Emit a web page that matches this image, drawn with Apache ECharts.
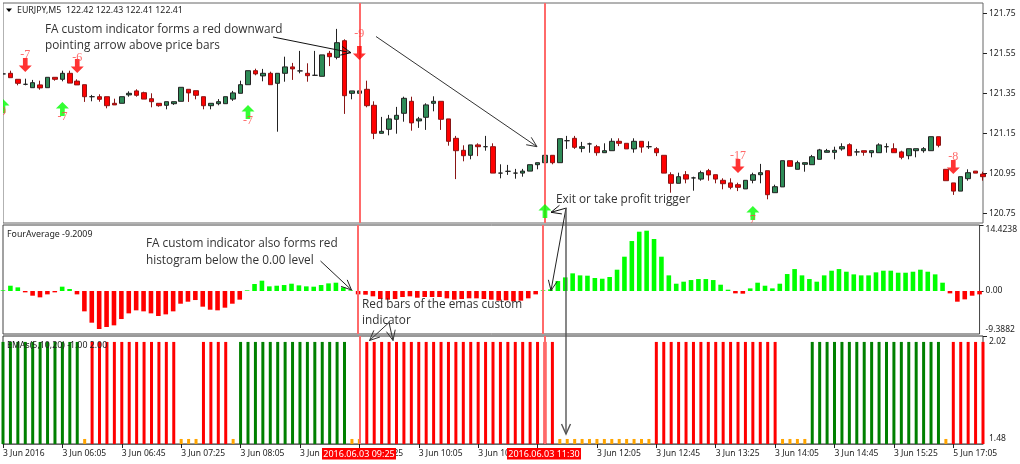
<!DOCTYPE html>
<html><head><meta charset="utf-8">
<style>html,body{margin:0;padding:0;background:#fff}#c{width:1020px;height:464px}</style>
<script src="https://cdn.jsdelivr.net/npm/echarts@6/dist/echarts.min.js"></script>
</head><body><div id="c"></div>
<script>
const tickLabels = ['3 Jun 2016','3 Jun 06:05','3 Jun 06:45','3 Jun 07:25','3 Jun 08:05','3 Jun 08:45','3 Jun 09:25','3 Jun 10:05','3 Jun 10:45','3 Jun 11:25','3 Jun 12:05','3 Jun 12:45','3 Jun 13:25','3 Jun 14:05','3 Jun 14:45','3 Jun 15:25','5 Jun 17:05'];
const opens = [121.448,121.451,121.421,121.396,121.379,121.393,121.379,121.431,121.421,121.451,
121.412,121.394,121.334,121.334,121.334,121.301,121.301,121.343,121.363,121.354,
121.324,121.301,121.291,121.299,121.311,121.371,121.364,121.334,121.289,121.299,
121.299,121.322,121.351,121.394,121.464,121.438,121.451,121.401,121.451,121.483,
121.463,121.451,121.441,121.436,121.551,121.531,121.614,121.351,121.351,121.371,
121.291,121.151,121.171,121.221,121.251,121.311,121.213,121.231,121.301,121.311,
121.223,121.126,121.066,121.041,121.093,121.084,121.084,120.952,120.961,120.952,
120.952,120.962,120.994,121.004,121.041,121.004,121.114,121.126,121.076,121.098,
121.084,121.054,121.064,121.111,121.101,121.073,121.111,121.084,121.074,121.041,
120.944,120.901,120.944,120.928,120.922,120.964,120.944,120.916,120.903,120.894,
120.873,120.916,120.944,120.964,120.854,120.883,121.014,120.971,120.996,120.994,
121.021,121.056,121.056,121.073,121.094,121.058,121.064,121.054,121.054,121.084,
121.074,121.058,121.039,121.064,121.064,121.064,121.134,120.971,120.903,120.862,
120.924,120.962,120.947];
const closes = [121.448,121.429,121.401,121.396,121.404,121.378,121.431,121.421,121.451,121.402,
121.393,121.334,121.334,121.321,121.289,121.293,121.334,121.351,121.341,121.322,
121.309,121.289,121.309,121.309,121.381,121.353,121.341,121.289,121.301,121.309,
121.334,121.353,121.394,121.464,121.448,121.451,121.394,121.451,121.483,121.473,
121.463,121.439,121.441,121.543,121.534,121.604,121.339,121.363,121.363,121.289,
121.151,121.161,121.223,121.241,121.326,121.203,121.223,121.293,121.311,121.221,
121.111,121.064,121.039,121.093,121.084,121.084,120.952,120.952,120.961,120.952,
120.962,120.994,121.004,121.041,121.004,121.124,121.114,121.081,121.084,121.098,
121.054,121.064,121.111,121.101,121.073,121.111,121.082,121.084,121.054,120.952,
120.901,120.934,120.922,120.928,120.954,120.943,120.922,120.899,120.881,120.881,
120.916,120.944,120.954,120.844,120.884,121.014,120.986,121.004,121.004,121.034,
121.068,121.064,121.066,121.084,121.039,121.058,121.056,121.064,121.093,121.084,
121.054,121.031,121.074,121.074,121.074,121.134,121.091,120.914,120.862,120.934,
120.954,120.952,120.934];
const lows = [121.438,121.429,121.391,121.391,121.379,121.369,121.379,121.414,121.411,121.402,
121.393,121.308,121.311,121.309,121.276,121.293,121.301,121.334,121.334,121.322,
121.281,121.284,121.271,121.293,121.311,121.308,121.321,121.271,121.271,121.291,
121.299,121.313,121.351,121.394,121.441,121.411,121.394,121.159,121.409,121.418,
121.451,121.409,121.441,121.436,121.487,121.521,121.248,121.321,121.351,121.281,
121.122,121.151,121.141,121.149,121.209,121.164,121.178,121.168,121.261,121.168,
121.089,120.922,121.011,121.021,121.037,121.064,120.952,120.926,120.943,120.924,
120.934,120.962,120.971,121.004,120.996,121.004,121.073,121.073,121.056,121.054,
121.039,121.054,121.064,121.087,121.073,121.054,121.054,121.073,121.037,120.952,
120.854,120.901,120.901,120.864,120.914,120.914,120.901,120.871,120.871,120.862,
120.873,120.901,120.901,120.821,120.854,120.883,120.986,120.971,120.959,120.994,
121.021,121.056,121.021,121.064,121.039,121.039,121.039,121.031,121.054,121.054,
121.054,121.021,121.021,121.031,121.054,121.064,121.081,120.914,120.843,120.862,
120.914,120.952,120.914];
const highs = [121.471,121.464,121.421,121.424,121.418,121.414,121.431,121.431,121.464,121.464,
121.421,121.394,121.343,121.346,121.334,121.324,121.334,121.361,121.371,121.359,
121.351,121.301,121.309,121.309,121.381,121.371,121.364,121.334,121.301,121.322,
121.334,121.363,121.414,121.464,121.474,121.473,121.459,121.451,121.534,121.503,
121.563,121.501,121.563,121.543,121.563,121.673,121.621,121.363,121.363,121.414,
121.311,121.233,121.243,121.283,121.334,121.334,121.233,121.301,121.336,121.311,
121.223,121.138,121.091,121.093,121.101,121.138,121.101,120.996,120.993,120.973,
120.973,120.994,121.004,121.041,121.041,121.124,121.138,121.138,121.108,121.104,
121.093,121.101,121.126,121.126,121.101,121.126,121.111,121.111,121.082,121.041,
120.956,120.954,120.962,120.934,120.964,120.973,120.944,120.926,120.926,120.904,
120.916,120.954,120.998,120.964,120.894,121.014,121.014,121.014,121.004,121.043,
121.073,121.073,121.084,121.101,121.101,121.073,121.064,121.064,121.101,121.101,
121.101,121.064,121.074,121.074,121.082,121.134,121.134,120.971,120.903,120.934,
120.971,120.962,120.959];
const fourAverage = [0.15,1.16,0.80,-0.29,-1.02,-1.38,-0.73,-0.29,0.95,0.44,
-0.73,-4.44,-6.92,-8.30,-7.86,-7.50,-6.12,-4.88,-4.22,-4.44,
-4.88,-5.46,-5.10,-4.44,-2.77,-2.33,-1.97,-3.42,-4.08,-4.22,
-3.64,-2.77,-1.89,0.15,1.53,2.26,1.02,1.16,1.31,1.60,
1.24,1.02,0.95,1.31,1.67,1.82,0.80,0.15,-0.73,-0.80,
-1.16,-1.75,-1.89,-1.75,-1.31,-1.16,-1.46,-1.31,-1.31,-1.31,
-1.60,-1.89,-1.75,-1.60,-1.60,-1.75,-1.89,-2.11,-2.04,-2.26,
-2.11,-1.60,-0.73,0.15,0.36,2.18,2.98,3.86,3.42,3.35,
2.84,2.69,3.06,4.66,7.50,10.92,12.96,13.18,11.36,7.50,
3.42,1.60,2.04,2.40,2.62,2.62,2.40,1.38,0.29,-0.51,
-0.58,0.58,1.82,1.16,0.58,1.60,3.71,4.80,3.42,2.62,
2.04,3.42,4.44,4.80,4.22,3.64,3.42,3.42,4.08,4.44,
4.44,4.00,4.00,4.22,4.66,4.22,3.64,1.82,-0.51,-2.33,
-1.82,-1.02,-0.73];
const emaKinds = 'GGGGGGGGGGGORRRRRRRRRRRROOORRRROGGGGGGGGGGGGGGGOORRRRRRRRRRRRRRRRRRRRRRRRRROOOOOOOOOOOOORRRRRRRRRRRRRRRRROOOOGGGGGGGGGGGGGGGGGGORRRRR'.split('');
const emaHigh = 2.02, emaLow = 1.48;
const downIdx = [3,10,48,99,128];
const downPrice = [121.4925,121.4875,121.5525,120.9875,120.9825];
const downText = ['-7','-6','-9','-17','-8'];
const downTextPrice = [121.5425,121.5275,121.6475,121.0375,121.0325];
const upIdx = [0,8,33,73,101];
const upPrice = [121.2875,121.2725,121.2575,120.7625,120.7525];
const upText = ['9','-7','-7','','7'];
const upTextPrice = [121.2575,121.2325,121.2125,120.7625,120.7175];
const signalLines = [48,73];
const priceTicks = [120.75,120.95,121.15,121.35,121.55,121.75];
const faTicks = [-9.3882,0,14.4238];

const categories = opens.map((_, i) => String(i));
const FONT = '"Noto Sans"';
const TXT = '#222';
const NOTE = '"Open Sans"';
const RED = '#ff0000', GRN = '#00ff00';
const LINE_RED = {color: '#ff6a6a', width: 2, type: 'solid', opacity: 1};

function vLines() {
  return {
    silent: true, symbol: 'none', animation: false,
    itemStyle: {color: '#ff6a6a'},
    lineStyle: Object.assign({}, LINE_RED), label: {show: false},
    data: signalLines.map(i => ({xAxis: String(i), itemStyle: {color: '#ff6a6a'}, lineStyle: Object.assign({}, LINE_RED)}))
  };
}
const arrowDown = 'path://M3.2,0 H6.8 V7 H10 L5,13 L0,7 H3.2 Z';
const arrowUp = 'path://M5,0 L10,6 H6.8 V13 H3.2 V6 H0 Z';

function xAxis(gridIndex, visible) {
  return {
    type: 'category', gridIndex, data: categories, boundaryGap: false, containShape: false,
    axisLine: {show: visible, lineStyle: {color: '#666'}},
    axisTick: {show: visible, length: 4, interval: i => i % 8 === 0, lineStyle: {color: '#222'}},
    axisLabel: {show: visible, interval: i => i % 8 === 0, align: 'left', margin: 5,
      formatter: (v) => tickLabels[Number(v) / 8] || '', color: TXT, fontFamily: FONT, fontSize: 8.5, hideOverlap: false},
    splitLine: {show: false}
  };
}
function yAxis(gridIndex, min, max, values, tickValues, fmt) {
  return {
    type: 'value', gridIndex, min, max, position: 'right', scale: true,
    axisLine: {show: false},
    axisTick: {show: true, length: 4, customValues: tickValues, lineStyle: {color: '#222'}},
    axisLabel: {customValues: values, color: TXT, fontFamily: FONT, fontSize: 8.5, margin: 6, hideOverlap: false,
      verticalAlignMaxLabel: gridIndex === 1 ? 'top' : null, verticalAlignMinLabel: gridIndex === 1 ? 'bottom' : null,
      formatter: fmt},
    splitLine: {show: false}
  };
}

function arrow(x1, y1, x2, y2, color, width) {
  const a = Math.atan2(y2 - y1, x2 - x1), L = 11, t = 0.42;
  const h = (s) => [x2 - L * Math.cos(a + s * t), y2 - L * Math.sin(a + s * t)];
  const st = {stroke: color, lineWidth: width, fill: null};
  return [
    {type: 'line', z: 50, shape: {x1, y1, x2, y2}, style: st},
    {type: 'polyline', z: 50, shape: {points: [h(1), [x2, y2], h(-1)]}, style: st}
  ];
}
function note(text, x, y) {
  return {type: 'text', z: 50, x, y, style: {text, fill: '#333', font: '11.8px ' + NOTE, textVerticalAlign: 'middle'}};
}
function redTag(text, x, y, w, h) {
  return [
    {type: 'rect', z: 60, shape: {x, y, width: w, height: h}, style: {fill: '#ff0000'}},
    {type: 'text', z: 61, x: x + w / 2, y: y + h / 2 + 0.5, style: {text, fill: '#fff', font: '9px ' + FONT, textAlign: 'center', textVerticalAlign: 'middle'}}
  ];
}
function small(text, x, y) {
  return {type: 'text', z: 40, x, y, style: {text, fill: '#222', font: '8.8px ' + FONT, textVerticalAlign: 'middle'}};
}

const graphics = [
  {type: 'rect', z: 30, shape: {x: 0, y: 0, width: 3, height: 223}, style: {fill: '#fff'}},
  {type: 'polygon', z: 40, shape: {points: [[6, 8.5], [12, 8.5], [9, 12]]}, style: {fill: '#000'}},
  small('EURJPY,M5  122.42 122.43 122.41 122.41', 17, 10),
  small('FourAverage -9.2009', 7, 234),
  small('EMAs(5,10,20) -1.00 2.00', 7, 345),
  note('FA custom indicator forms a red downward', 45, 30),
  note('pointing arrow above price bars', 45, 46),
  note('Exit or take profit trigger', 556, 200),
  note('FA custom indicator also forms red', 146, 244),
  note('histogram below the 0.00 level', 146, 261),
  note('Red bars of the emas custom', 362, 305),
  note('indicator', 362, 321),
  ...arrow(273, 37, 351, 52.7, '#111', 1),
  ...arrow(376, 36.5, 537, 146.7, '#333', 1),
  ...arrow(566.5, 208, 551, 212.3, '#111', 1),
  ...arrow(566, 208, 551, 290.5, '#222', 1),
  ...arrow(566, 208, 566, 434, '#555', 1.4),
  ...arrow(320.5, 261, 351.5, 290, '#222', 1),
  ...arrow(389, 322.5, 369.5, 340.5, '#333', 1),
  ...arrow(389, 322.5, 393, 340.5, '#333', 1),
  ...redTag('2016.06.03 09:25', 322, 448, 74, 11.5),
  ...redTag('2016.06.03 11:30', 507, 448, 74, 11.5)
];

const chart = echarts.init(document.getElementById('c'), null, {renderer: 'canvas'});
chart.setOption({
  animation: false,
  backgroundColor: '#fff',
  grid: [
    {left: 3, top: 3, width: 980, height: 220, show: true, borderColor: '#666', borderWidth: 1, backgroundColor: 'transparent'},
    {left: 3, top: 225, width: 980, height: 109, show: true, borderColor: '#444', borderWidth: 1, backgroundColor: 'transparent'},
    {left: 3, top: 336, width: 980, height: 108, show: true, borderColor: '#333', borderWidth: 1, backgroundColor: 'transparent'}
  ],
  xAxis: [xAxis(0, false), xAxis(1, false), xAxis(2, true)],
  yAxis: [
    yAxis(0, 120.7025, 121.8025, priceTicks, priceTicks, v => v.toFixed(2)),
    yAxis(1, -9.3882, 14.4238, faTicks, [0, 14.4238], v => Math.abs(v) < 1e-9 ? '0.00' : String(v)),
    yAxis(2, 1.452, 2.053, [emaLow, emaHigh], [2.053], v => v.toFixed(2))
  ],
  series: [
    {type: 'candlestick', xAxisIndex: 0, yAxisIndex: 0, barWidth: 5,
      data: opens.map((o, i) => [o, closes[i], lows[i], highs[i]]),
      itemStyle: {color: '#2e8b57', color0: '#ff0000', borderColor: '#222', borderColor0: '#8a1515', borderColorDoji: '#222', borderWidth: 1},
      markLine: vLines(), z: 3},
    {type: 'scatter', xAxisIndex: 0, yAxisIndex: 0, symbol: arrowDown, symbolSize: [13, 14], itemStyle: {color: RED}, z: 5,
      data: downIdx.map((x, i) => [String(x), downPrice[i]])},
    {type: 'scatter', xAxisIndex: 0, yAxisIndex: 0, symbol: arrowUp, symbolSize: [13, 14], itemStyle: {color: GRN}, z: 5,
      data: upIdx.map((x, i) => [String(x), upPrice[i]])},
    {type: 'scatter', xAxisIndex: 0, yAxisIndex: 0, symbolSize: 0, z: 6, clip: false,
      data: downIdx.map((x, i) => ({value: [String(x), downTextPrice[i]], name: downText[i]})).concat(
            upIdx.map((x, i) => ({value: [String(x), upTextPrice[i]], name: upText[i]}))),
      label: {show: true, position: 'inside', formatter: p => p.name, color: '#f44', fontFamily: 'Liberation Serif', fontSize: 12}},
    {type: 'bar', xAxisIndex: 1, yAxisIndex: 1, barWidth: 4.6, clip: true, z: 2,
      data: fourAverage,
      itemStyle: {color: p => p.value >= 0 ? GRN : RED},
      markLine: vLines()},
    {type: 'bar', xAxisIndex: 2, yAxisIndex: 2, barWidth: 3, clip: true, z: 2,
      data: emaKinds.map(k => k === 'O' ? emaLow : emaHigh),
      itemStyle: {color: p => ({G: '#008000', R: '#ff0000', O: '#ffa500'})[emaKinds[p.dataIndex]]},
      markLine: vLines()}
  ],
  graphic: graphics
});
</script></body></html>
